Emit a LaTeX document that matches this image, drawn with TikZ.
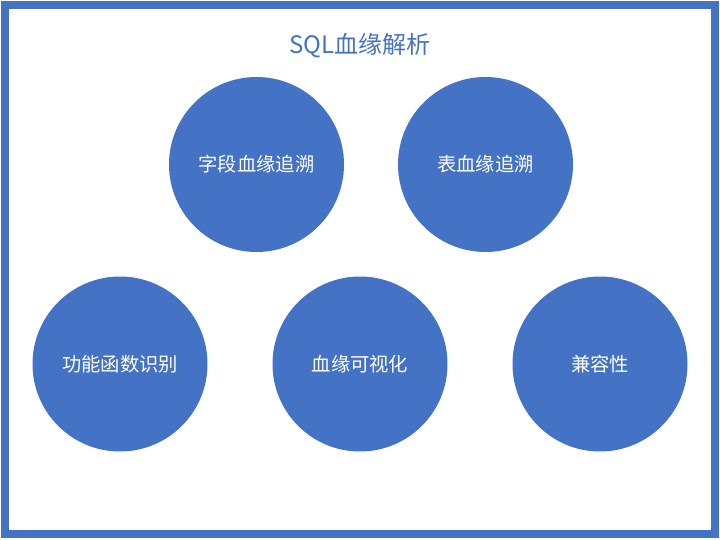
\documentclass[tikz,border=0pt]{standalone}
\usepackage{fontspec}
\setmainfont{Noto Sans CJK SC}
\begin{document}
\begin{tikzpicture}[x=1pt,y=-1pt,
  ball/.style={circle,fill=blueA,draw=none,minimum size=175pt,inner sep=0pt,text=white,font=\fontsize{19.3}{22}\selectfont},
  frame/.style={draw=blueA,line width=8pt}]
\definecolor{blueA}{HTML}{4472C4}
\useasboundingbox (0,0) rectangle (720,540);
\fill[white] (0,0) rectangle (720,540);
\draw[frame] (5,5) rectangle (714.5,534);
\node[text=blueA,font=\fontsize{24}{28}\selectfont] (title) at (360,46) {SQL血缘解析};
\node[ball] (c1) at (256.5,164.5) {字段血缘追溯};
\node[ball] (c2) at (485.5,164.5) {表血缘追溯};
\node[ball] (c3) at (120,364) {功能函数识别};
\node[ball] (c4) at (360,364) {血缘可视化};
\node[ball] (c5) at (600,364) {兼容性};
\end{tikzpicture}
\end{document}
